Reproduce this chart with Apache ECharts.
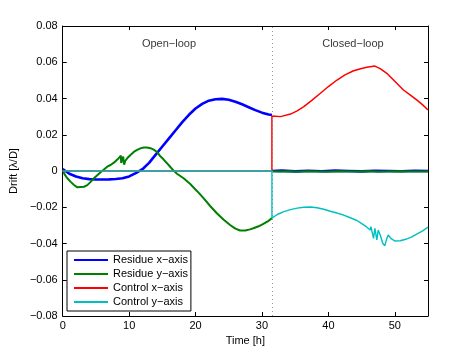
<!DOCTYPE html>
<html>
<head>
<meta charset="utf-8">
<script src="https://cdn.jsdelivr.net/npm/echarts@6/dist/echarts.min.js"></script>
<style>
html,body{margin:0;padding:0;background:#fff;}
#chart{width:474px;height:355px;}
</style>
</head>
<body>
<div id="chart"></div>
<script>
// ---- Data (time in hours, drift in lambda/D); null = line break ----
const seriesNames = ['Residue x\u2212axis', 'Residue y\u2212axis', 'Control x\u2212axis', 'Control y\u2212axis'];
const xTicks = [0, 10, 20, 30, 40, 50];
const yTicks = [-0.08, -0.06, -0.04, -0.02, 0, 0.02, 0.04, 0.06, 0.08];
const loopSwitchTime = 31.5;

// Residue x-axis
const resXTime = [0, 1, 2, 3, 4, 5, 6, 7, 8, 9, 10, 11, 12, 13, 14, 15, 16, 17, 18, 19, 20, 21, 22, 23, 24, 25, 26, 27, 28, 29, 30, 31, 31.5,
  31.5, 31.5, 33, 35, 37, 39, 41, 43, 45, 47, 49, 51, 53, 55];
const resXVal = [0.001, -0.0015, -0.003, -0.004, -0.0045, -0.0047, -0.0047, -0.0046, -0.0044, -0.004, -0.003, -0.0012, 0.001, 0.0045, 0.009, 0.0135, 0.018, 0.0225, 0.027, 0.031, 0.0345, 0.037, 0.0388, 0.0396, 0.0398, 0.0393, 0.0382, 0.0368, 0.0352, 0.0336, 0.0322, 0.0312, 0.0309,
  null, 0, 0.0002, -0.0002, 0.0001, -0.0001, 0.0002, 0, -0.0002, 0.0001, 0, -0.0001, 0.0001, 0];

// Residue y-axis
const resYTime = [0, 0.3, 0.7, 1.2, 1.7, 2.2, 2.7, 3.2, 3.7, 4.2, 4.7, 5.2, 5.7, 6.2, 6.7, 7.2, 7.7, 8.0, 8.3, 8.6, 8.75, 8.8, 8.95, 9.1, 9.25, 9.4, 9.7, 10.2, 10.7, 11.2, 11.7, 12.2, 12.7, 13.2, 13.7, 14.2, 14.7, 15.2, 15.7, 16.2, 16.7, 17.2, 18.2, 19.2, 20.2, 21.2, 22.2, 23.2, 24.2, 25.2, 26.0, 26.7, 27.5, 28.2, 28.7, 29.5, 30.2, 31.0, 31.5,
  31.5, 31.5, 32.5, 34, 35.5, 37, 38.5, 40, 41.5, 43, 44.5, 46, 47.5, 49, 50.5, 52, 53.5, 55];
const resYVal = [0.0005, -0.002, -0.004, -0.006, -0.0077, -0.009, -0.0088, -0.0087, -0.0078, -0.006, -0.004, -0.0023, -0.0007, 0.0008, 0.0024, 0.0033, 0.0046, 0.0057, 0.0066, 0.0075, 0.0085, 0.0045, 0.006, 0.008, 0.0035, 0.0055, 0.007, 0.0088, 0.0105, 0.0116, 0.0125, 0.013, 0.013, 0.0126, 0.0118, 0.0105, 0.0081, 0.0063, 0.0043, 0.0022, 0.0002, -0.0015, -0.004, -0.0072, -0.011, -0.015, -0.0193, -0.0233, -0.0268, -0.0298, -0.0318, -0.0328, -0.0328, -0.0322, -0.0316, -0.0305, -0.0292, -0.0275, -0.026,
  null, -0.0002, -0.0003, -0.0002, -0.0004, -0.0002, -0.0003, -0.0004, -0.0002, -0.0003, -0.0003, -0.0002, -0.0004, -0.0003, -0.0002, -0.0003, -0.0003, -0.0003];

// Control x-axis
const ctrlXTime = [0, 31.5, 31.5, 32.8, 34.3, 35.3, 36.3, 37.5, 38.8, 40, 41.3, 42.5, 43.8, 45, 45.8, 47.0, 47.8, 48.8, 50, 51.3, 52.3, 53.3, 54.2, 55];
const ctrlXVal = [0, 0, 0.0303, 0.030, 0.0314, 0.0332, 0.0355, 0.039, 0.0429, 0.0466, 0.0502, 0.053, 0.0553, 0.0566, 0.0572, 0.0579, 0.0565, 0.0539, 0.0495, 0.0447, 0.042, 0.0392, 0.0365, 0.0337];

// Control y-axis
const ctrlYTime = [0, 31.5, 31.5, 32.3, 33.3, 34.3, 35.3, 36.3, 37.3, 38.3, 39.3, 40.3, 41.3, 42.3, 43.3, 44.3, 44.8, 45.8, 46.3, 46.4, 46.8, 47.0, 47.3, 47.5, 47.8, 48.2, 48.5, 48.8, 49.0, 49.5, 50.0, 50.8, 51.8, 52.5, 53.3, 54.2, 55];
const ctrlYVal = [0, 0, -0.026, -0.024, -0.0224, -0.0213, -0.0205, -0.020, -0.0199, -0.0203, -0.0211, -0.0222, -0.0232, -0.0243, -0.0258, -0.0273, -0.0285, -0.031, -0.0326, -0.0307, -0.0372, -0.0316, -0.038, -0.0326, -0.0353, -0.040, -0.0412, -0.0372, -0.0353, -0.0375, -0.0386, -0.0385, -0.0375, -0.0365, -0.0348, -0.033, -0.031];

// Annotations
const annotations = [
  {text: 'Open\u2212loop', t: 16, v: 0.070},
  {text: 'Closed\u2212loop', t: 43.7, v: 0.070}
];

// ---- Build ----
const pairs = (ts, vs) => ts.map((t, i) => [t, vs[i] === null ? '-' : vs[i]]);
const FONT = 'Liberation Sans, Arial, Helvetica, sans-serif';
const colors = ['#0000ff', '#008000', '#ff0000', '#00bfbf'];
const widths = [2.6, 2, 1.5, 1.4];
const datasets = [pairs(resXTime, resXVal), pairs(resYTime, resYVal), pairs(ctrlXTime, ctrlXVal), pairs(ctrlYTime, ctrlYVal)];

const fmtY = v => {
  if (Math.abs(v) < 1e-9) return '0';
  return (v < 0 ? '\u2212' : '') + Math.abs(v).toFixed(2);
};

const baseAxis = {
  axisLine: {show: true, onZero: false, lineStyle: {color: '#000', width: 1}},
  axisTick: {show: true, inside: true, length: 4, lineStyle: {color: '#000'}},
  splitLine: {show: false}
};

const series = seriesNames.map((name, i) => ({
  name: name,
  type: 'line',
  data: datasets[i],
  symbol: 'none',
  showSymbol: false,
  connectNulls: false,
  animation: false,
  xAxisIndex: 0, yAxisIndex: 0,
  lineStyle: {color: colors[i], width: widths[i]},
  itemStyle: {color: colors[i]},
  z: 2 + i
}));

series[0].markLine = {
  silent: true,
  symbol: ['none', 'none'],
  label: {show: false},
  lineStyle: {type: [1, 3], color: '#999', width: 1},
  data: [{xAxis: loopSwitchTime}],
  animation: false
};

series.push({
  type: 'scatter',
  name: 'annotations',
  data: annotations.map(a => ({value: [a.t, a.v], label: {formatter: a.text}})),
  symbolSize: 0,
  silent: true,
  animation: false,
  label: {show: true, position: 'inside', color: '#000', fontSize: 11, fontFamily: FONT}
});

const chart = echarts.init(document.getElementById('chart'), null, {renderer: 'canvas'});
chart.setOption({
  backgroundColor: '#fff',
  animation: false,
  grid: {left: 62, right: 46, top: 26, bottom: 39, containLabel: false},
  legend: {
    data: seriesNames,
    orient: 'vertical',
    left: 67, top: 251,
    padding: [3, 3, 3, 7],
    itemGap: 2,
    itemWidth: 34,
    itemHeight: 2,
    icon: 'rect',
    backgroundColor: '#fff',
    borderColor: '#000',
    borderWidth: 1,
    selectedMode: false,
    textStyle: {color: '#000', fontSize: 11, fontFamily: FONT, lineHeight: 12}
  },
  xAxis: [
    Object.assign({}, baseAxis, {
      type: 'value', position: 'bottom', min: 0, max: 55, interval: 10,
      name: 'Time [h]', nameLocation: 'middle', nameGap: 17,
      nameTextStyle: {color: '#000', fontSize: 11, fontFamily: FONT},
      axisLabel: {show: true, color: '#000', fontSize: 11, fontFamily: FONT, margin: 4, showMaxLabel: false,
        formatter: v => (xTicks.indexOf(v) >= 0 ? String(v) : '')}
    }),
    Object.assign({}, baseAxis, {
      type: 'value', position: 'top', min: 0, max: 55, interval: 10,
      axisLabel: {show: false}
    })
  ],
  yAxis: [
    Object.assign({}, baseAxis, {
      type: 'value', position: 'left', min: yTicks[0], max: yTicks[yTicks.length - 1], interval: 0.02,
      name: 'Drift [\u03bb/D]', nameLocation: 'middle', nameGap: 33, nameRotate: 90,
      nameTextStyle: {color: '#000', fontSize: 11, fontFamily: FONT},
      axisLabel: {show: true, color: '#000', fontSize: 11, fontFamily: FONT, margin: 5, formatter: fmtY}
    }),
    Object.assign({}, baseAxis, {
      type: 'value', position: 'right', min: yTicks[0], max: yTicks[yTicks.length - 1], interval: 0.02,
      axisLabel: {show: false}
    })
  ],
  series: series
});
</script>
</body>
</html>
